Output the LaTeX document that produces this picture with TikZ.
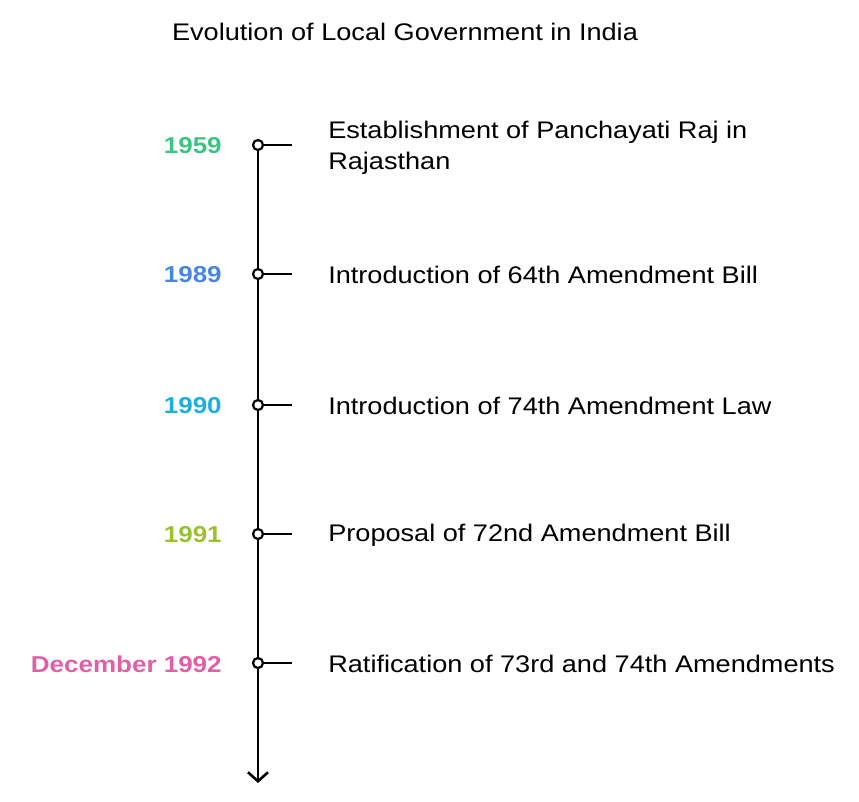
\documentclass[tikz,border=0pt]{standalone}
\usepackage{fontspec}
\setmainfont{Liberation Sans}[FakeStretch=1.13]
\usetikzlibrary{arrows.meta}
\definecolor{yearA}{RGB}{60,196,131}
\definecolor{yearB}{RGB}{74,134,224}
\definecolor{yearC}{RGB}{26,175,222}
\definecolor{yearD}{RGB}{154,194,45}
\definecolor{yearE}{RGB}{224,96,168}

\begin{document}
\begin{tikzpicture}[x=1pt,y=-1pt,line width=2.6pt,
  year node/.style={anchor=east,inner sep=0pt,font=\fontsize{23}{28}\selectfont\bfseries},
  event node/.style={anchor=west,align=left,inner sep=0pt,font=\fontsize{24}{31}\selectfont},
  dot node/.style={circle,draw,fill=white,inner sep=0pt,minimum size=10pt,line width=2.2pt}]
  \useasboundingbox (0,0) rectangle (859,801);

  \node[inner sep=0pt,font=\fontsize{24}{28}\selectfont] (title) at (405,32) {Evolution of Local Government in India};

  \node[dot node] (d1) at (258,145) {};
  \node[dot node] (d2) at (258,274) {};
  \node[dot node] (d3) at (258,405) {};
  \node[dot node] (d4) at (258,534) {};
  \node[dot node] (d5) at (258,663) {};
  \coordinate (t1) at (292,145);
  \coordinate (t2) at (292,274);
  \coordinate (t3) at (292,405);
  \coordinate (t4) at (292,534);
  \coordinate (t5) at (292,663);
  \coordinate (tip) at (258,783);

  \node[year node,yearA] (y1) at (223,146) {1959};
  \node[year node,yearB] (y2) at (223,275) {1989};
  \node[year node,yearC] (y3) at (223,406) {1990};
  \node[year node,yearD] (y4) at (223,535) {1991};
  \node[year node,yearE] (y5) at (223,664) {December 1992};

  \node[event node] (e1) at (327,148) {Establishment of Panchayati Raj in\\Rajasthan};
  \node[event node] (e2) at (327,275) {Introduction of 64th Amendment Bill};
  \node[event node] (e3) at (327,406) {Introduction of 74th Amendment Law};
  \node[event node] (e4) at (327,535) {Proposal of 72nd Amendment Bill};
  \node[event node] (e5) at (327,664) {Ratification of 73rd and 74th Amendments};

  \path[draw]
    (d1) edge (d2)
    (d2) edge (d3)
    (d3) edge (d4)
    (d4) edge (d5);
  \draw[-{Straight Barb[length=9pt,width=20pt,line width=2.6pt]}] (d5) -- (tip);

  \path[draw]
    (d1) edge (t1)
    (d2) edge (t2)
    (d3) edge (t3)
    (d4) edge (t4)
    (d5) edge (t5);
\end{tikzpicture}
\end{document}
